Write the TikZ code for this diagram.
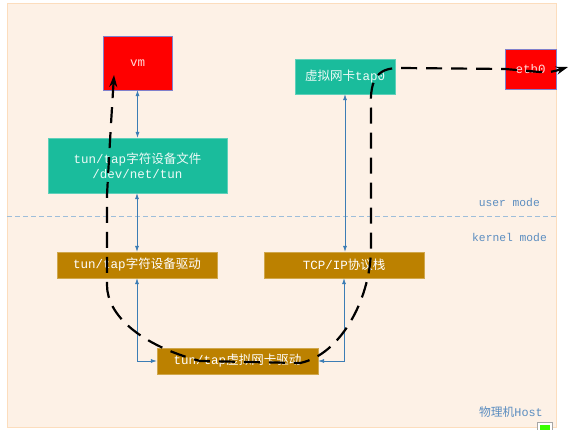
\documentclass[tikz,border=0pt]{standalone}
\usepackage{fontspec}
\setmainfont{Liberation Serif}
\newfontfamily\mono{Liberation Mono}
\newfontfamily\cjk{Noto Sans CJK SC}
\newcommand\zh[1]{{\cjk #1}}
\usetikzlibrary{arrows.meta}
\definecolor{bgfill}{HTML}{FDF1E6}
\definecolor{bgline}{HTML}{FCDDBD}
\definecolor{teal1}{HTML}{1ABC9C}
\definecolor{gold1}{HTML}{BC8100}
\definecolor{blueline}{HTML}{3C7DB5}
\definecolor{labelblue}{HTML}{5B8DC0}
\tikzset{
  box/.style={draw, rectangle, inner sep=0pt, font=\mono\fontsize{12.5}{14}\selectfont, align=center},
  redbox/.style={box, fill=red, draw=black!40!blue!50!white, text=white!85!red},
  tealbox/.style={box, fill=teal1, draw=teal1!70!white, text=white!92!teal1},
  goldbox/.style={box, fill=gold1, draw=gold1!70!white, text=white},
  link/.style={draw=blueline, line width=0.6pt, {Latex[length=6pt,width=4pt]}-{Latex[length=6pt,width=4pt]}},
  flow/.style={line width=2.2pt, dash pattern=on 16pt off 9pt, {Stealth[length=12pt,width=8pt]}-{Stealth[length=12pt,width=8pt]}},
  modelabel/.style={text=labelblue, font=\mono\fontsize{11.3}{13}\selectfont, inner sep=0pt}
}
\begin{document}
\begin{tikzpicture}[x=1pt,y=-1pt]
\useasboundingbox (0,0) rectangle (569,430);
\draw[bgline, fill=bgfill, line width=1pt] (7,4) rectangle (556,427);
\draw[blueline!50!white, line width=0.8pt, dash pattern=on 5pt off 3pt] (7,216) -- (556,216);
\node[modelabel, anchor=base east] (user) at (540,206) {user mode};
\node[modelabel, anchor=base east] (kernel) at (547,241) {kernel mode};
\node[modelabel, anchor=base east, font=\mono\fontsize{11.8}{13}\selectfont] (host) at (543,416) {\zh{物理机}Host};

\node[redbox, minimum width=69pt, minimum height=54pt] (vm) at (137.5,63) {vm};
\node[tealbox, minimum width=179pt, minimum height=55pt] (file) at (137.5,165.5) {tun/tap\zh{字符设备文件}\\[1pt]/dev/net/tun};
\node[tealbox, minimum width=100pt, minimum height=35pt] (tap) at (345,76.5) {\zh{虚拟网卡}tap0};
\node[redbox, minimum width=51pt, minimum height=40pt] (eth) at (530.5,69) {eth0};
\node[goldbox, minimum width=160pt, minimum height=26pt] (drv) at (137,265) {tun/tap\zh{字符设备驱动}};
\node[goldbox, minimum width=160pt, minimum height=26pt] (tcp) at (344,265) {TCP/IP\zh{协议栈}};
\node[goldbox, minimum width=161pt, minimum height=26pt] (vnic) at (237.5,361) {tun/tap\zh{虚拟网卡驱动}};

\draw[link] (vm.south) -- (file.north);
\draw[link] (file.south -| drv.north) -- (drv.north);
\draw[link] (drv.south) |- (vnic.west);
\draw[link] (vnic.east) -| (tcp.south);
\draw[link] (tcp.north -| tap.south) -- (tap.south);

\coordinate (pvm) at (114,75);
\coordinate (peth) at (568,67);
\draw[flow] (pvm) .. controls (110,140) .. (107,195) -- (107,285)
  .. controls (107,315) and (140,345) .. (200,361) -- (300,363)
  .. controls (340,355) and (370,300) .. (371,250) -- (371,110)
  .. controls (369,75) and (380,68) .. (400,68) -- (505,69) -- (540,72)
  .. controls (552,72) .. (peth);

\draw[black!35, fill=white, line width=0.6pt] (537,422) rectangle (552,432);
\fill[green!70!lime] (539.5,424.5) rectangle (549.5,432);
\end{tikzpicture}
\end{document}
